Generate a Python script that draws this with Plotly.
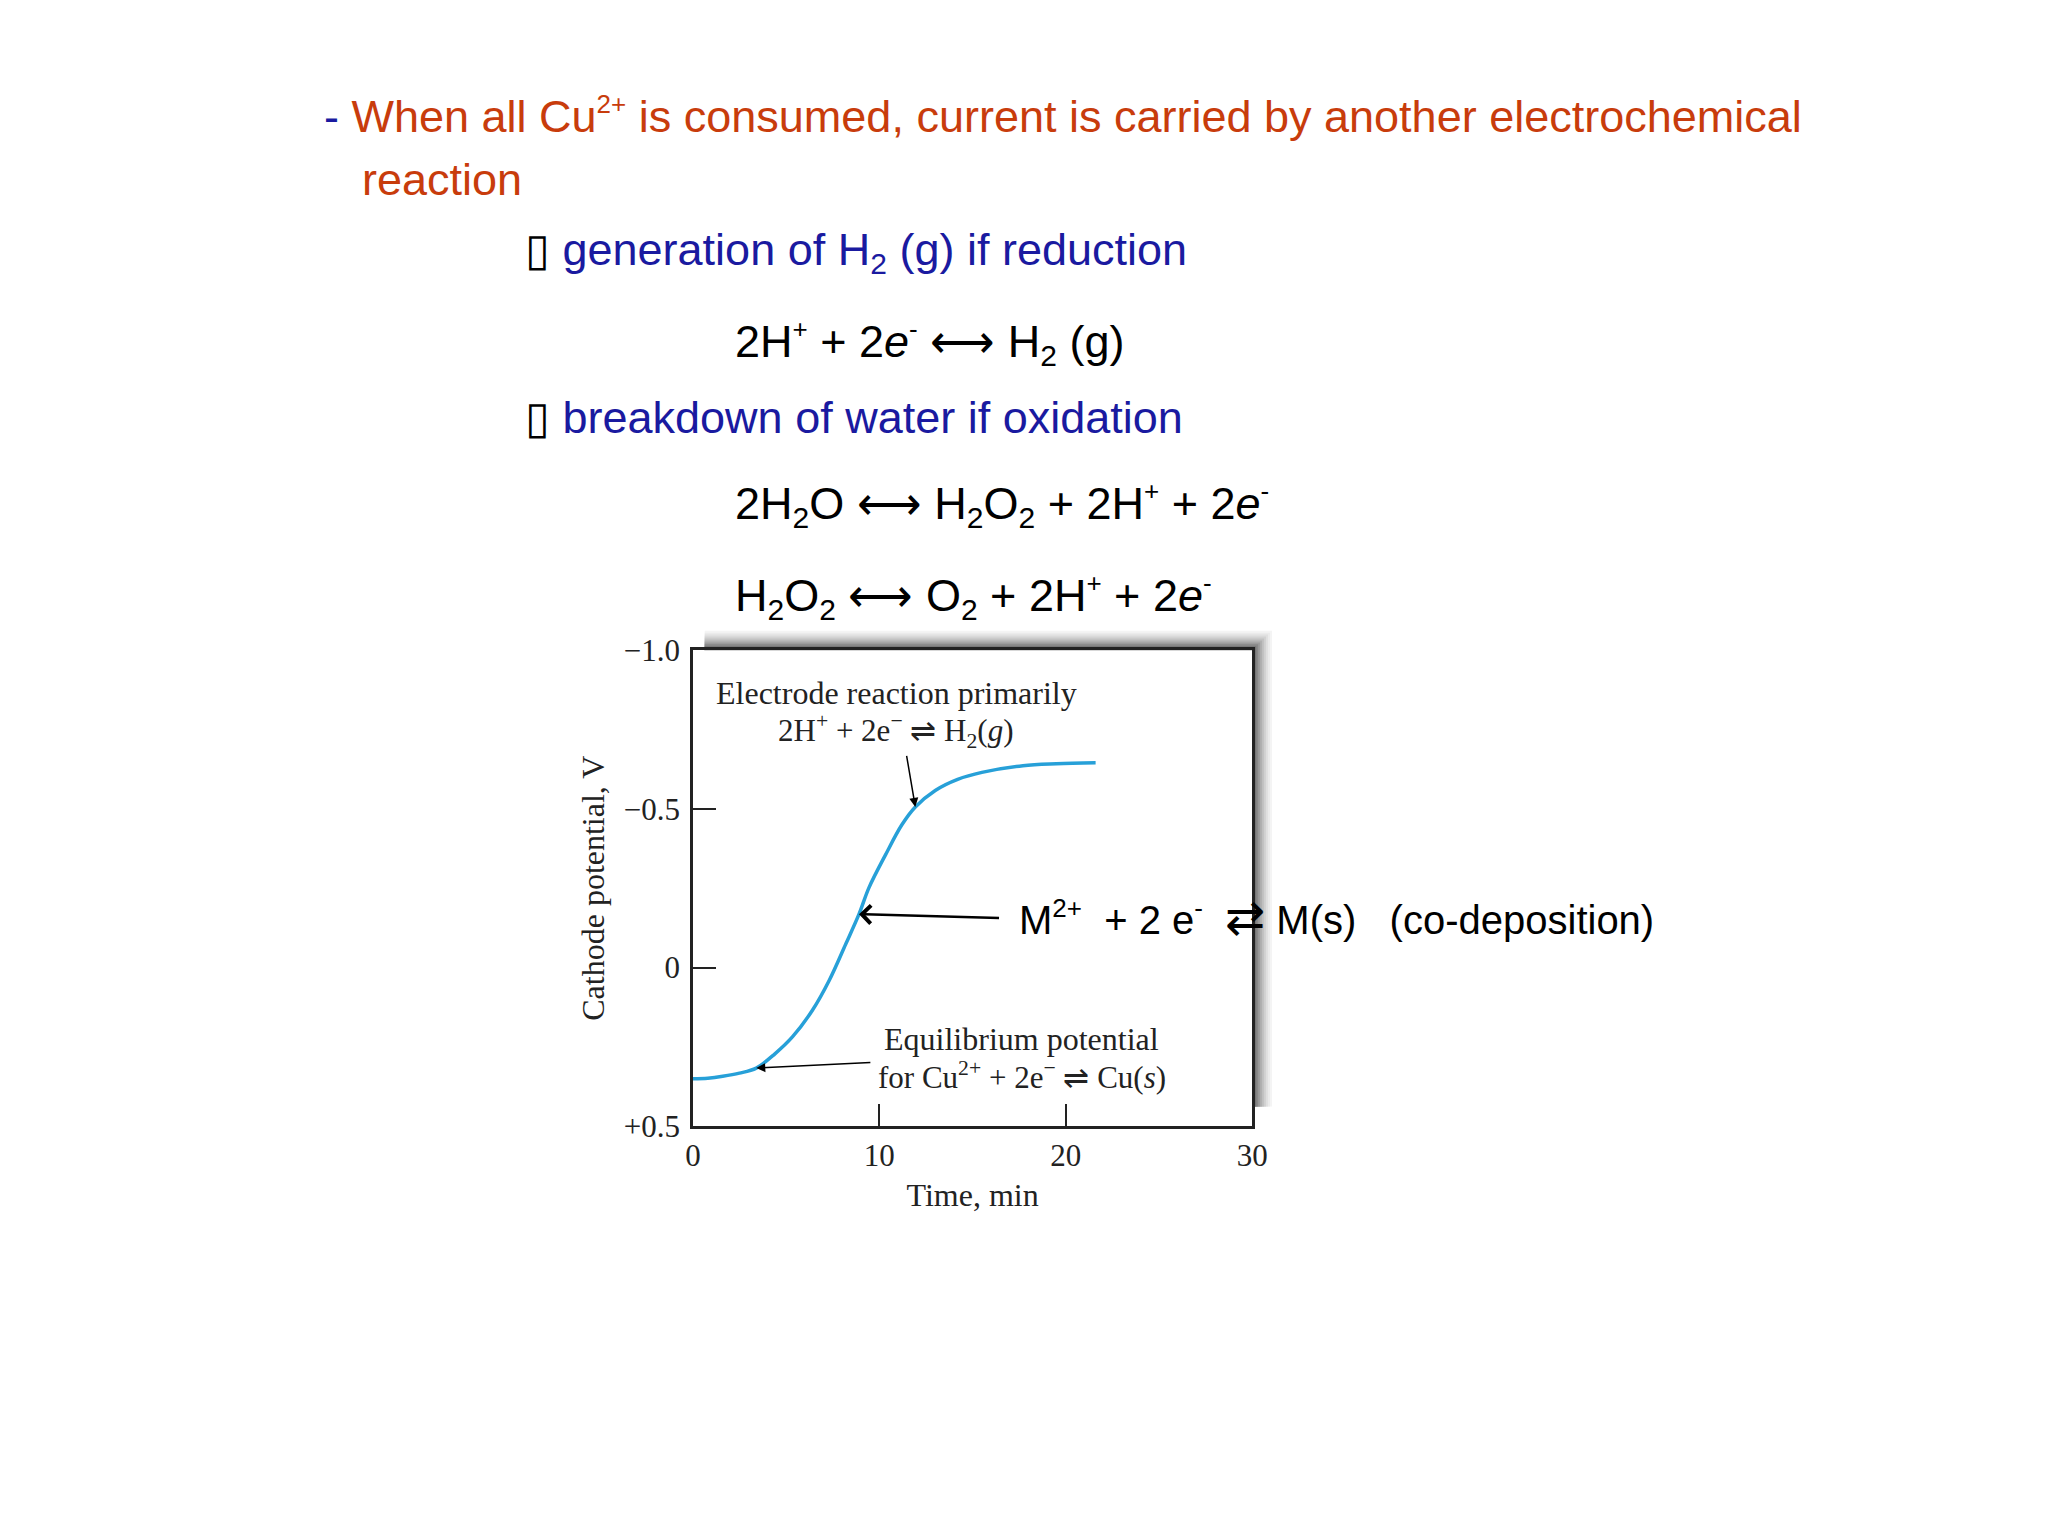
import plotly.graph_objects as go

W, H = 2048, 1536

# ---- data ----
time_min = [0, 0.8, 1.6, 2.5, 3.4, 4.4, 5.35, 6.42, 7.31, 8.2, 8.91, 9.44, 10.33,
            11.2, 11.93, 13.0, 14.2, 15.5, 17.7, 19.5, 21.6]
potential_v = [0.351, 0.349, 0.343, 0.333, 0.317, 0.272, 0.218, 0.134, 0.041, -0.074,
               -0.168, -0.251, -0.355, -0.449, -0.506, -0.558, -0.593, -0.615, -0.636,
               -0.642, -0.645]

x_ticks = [0, 10, 20, 30]
y_ticks = [-1.0, -0.5, 0, 0.5]
y_ticktext = ["\u22121.0", "\u22120.5", "0", "+0.5"]

RED = "#c83c0c"
BLUE = "#1a1aa0"
INK = "#222222"
SANS = "Liberation Sans, Arial, sans-serif"
SERIF = "Liberation Serif, Times New Roman, serif"


def px(x):
    return x / W


def py(y):
    return 1 - y / H


def sup(t, size=26):
    return f'<sup><span style="font-size:{size}px">{t}</span></sup>'


def sub(t, size=30):
    return f'<sub><span style="font-size:{size}px">{t}</span></sub>'


# plot box in page pixels
BOX_L, BOX_R, BOX_T, BOX_B = 693, 1259, 648, 1135

fig = go.Figure()
fig.add_trace(go.Scatter(
    x=time_min, y=potential_v, mode="lines",
    line=dict(color="#27a0d8", width=3.5, shape="spline", smoothing=1.0),
    hoverinfo="skip", showlegend=False,
))

# ---- drop shadow behind the plot box (top and right) ----
shapes = []
greys = ["#f4f4f4", "#ebebeb", "#e0e0e0", "#d2d2d2", "#c2c2c2",
         "#b0b0b0", "#9c9c9c", "#888888", "#747474", "#606060"]
for i, g in enumerate(greys):
    k = 20 - 2 * i
    shapes.append(dict(
        type="rect", xref="paper", yref="paper", layer="below",
        x0=px(705), x1=px(BOX_R + k), y0=py(1115), y1=py(BOX_T - k),
        fillcolor=g, line=dict(width=0),
    ))
shapes.append(dict(
    type="rect", xref="paper", yref="paper", layer="below",
    x0=px(BOX_L), x1=px(BOX_R), y0=py(BOX_B), y1=py(BOX_T),
    fillcolor="white", line=dict(width=0),
))

# ---- slide text ----
ann = []


def slide_text(x, y, text, size, color="black", family=SANS, anchor="left"):
    ann.append(dict(
        x=px(x), y=py(y), xref="paper", yref="paper", text=text, showarrow=False,
        xanchor=anchor, yanchor="middle", align=anchor,
        font=dict(size=size, color=color, family=family),
    ))


slide_text(318, 101,
           f'<span style="color:{BLUE}">-</span> When all Cu{sup("2+")} is consumed, '
           'current is carried by another electrochemical', 45, RED)
slide_text(356, 166, "reaction", 45, RED)
slide_text(521, 240,
           f'<span style="color:black">\u25af</span> generation of H{sub("2")} (g) if reduction', 45, BLUE)
slide_text(734, 334, f"2H{sup('+')} + 2<i>e</i>{sup('-')} \u27f7 H{sub('2')} (g)", 45)
slide_text(521, 410,
           '<span style="color:black">\u25af</span> breakdown of water if oxidation', 45, BLUE)
slide_text(734, 499,
           f"2H{sub('2')}O \u27f7 H{sub('2')}O{sub('2')} + 2H{sup('+')} + 2<i>e</i>{sup('-')}", 45)
slide_text(734, 594,
           f"H{sub('2')}O{sub('2')} \u27f7 O{sub('2')} + 2H{sup('+')} + 2<i>e</i>{sup('-')}", 45)

# labels inside the chart
slide_text(899, 692, "Electrode reaction primarily", 32, INK, SERIF, "center")
slide_text(899, 731, "2H<sup>+</sup> + 2e<sup>\u2212</sup> \u21cc H<sub>2</sub>(<i>g</i>)", 31,
           INK, SERIF, "center")
slide_text(1026, 1046, "Equilibrium potential", 32, INK, SERIF, "center")
slide_text(1026, 1083, "for Cu<sup>2+</sup> + 2e<sup>\u2212</sup> \u21cc Cu(<i>s</i>)", 31,
           INK, SERIF, "center")
slide_text(1021, 921,
           f"M{sup('2+', 26)}  + 2 e{sup('-', 26)}  <span style='font-size:48px'>\u21c4</span> M(s)   (co-deposition)",
           40)

# arrows pointing at the curve
arrows = [
    (11.93, -0.506, 11.45, -0.672, 1.5, 2, 1.2),
    (8.91, -0.168, 16.5, -0.156, 2.5, 4, 1.4),
    (3.4, 0.317, 9.6, 0.299, 1.5, 2, 1.2),
]
for hx, hy, tx, ty, w, head, size in arrows:
    ann.append(dict(
        x=hx, y=hy, ax=tx, ay=ty, xref="x", yref="y", axref="x", ayref="y",
        text="", showarrow=True, arrowhead=head, arrowsize=size, arrowwidth=w,
        arrowcolor="black",
    ))

axis_font = dict(family=SERIF, size=31, color=INK)
fig.update_layout(
    width=W, height=H,
    margin=dict(l=0, r=0, t=0, b=0),
    paper_bgcolor="white", plot_bgcolor="rgba(0,0,0,0)",
    shapes=shapes, annotations=ann,
    xaxis=dict(
        domain=[px(BOX_L), px(BOX_R)], range=[0, 30],
        tickvals=x_ticks, ticks="inside", ticklen=22, tickwidth=2, tickcolor=INK,
        showline=True, mirror=True, linecolor=INK, linewidth=2.5,
        showgrid=False, zeroline=False, tickfont=axis_font,
        title=dict(text="Time, min", font=dict(family=SERIF, size=32, color=INK), standoff=12),
    ),
    yaxis=dict(
        domain=[py(BOX_B), py(BOX_T)], range=[0.5, -1.0],
        tickvals=y_ticks, ticktext=y_ticktext, ticks="inside", ticklen=23, tickwidth=2,
        tickcolor=INK, ticklabelstandoff=4,
        showline=True, mirror=True, linecolor=INK, linewidth=2.5,
        showgrid=False, zeroline=False, tickfont=axis_font,
        title=dict(text="Cathode potential, V", font=dict(family=SERIF, size=32, color=INK),
                   standoff=10),
    ),
)

fig.write_html("out.html", config={"displayModeBar": False},
               post_script="document.body.style.margin='0';document.body.style.overflow='hidden';")
